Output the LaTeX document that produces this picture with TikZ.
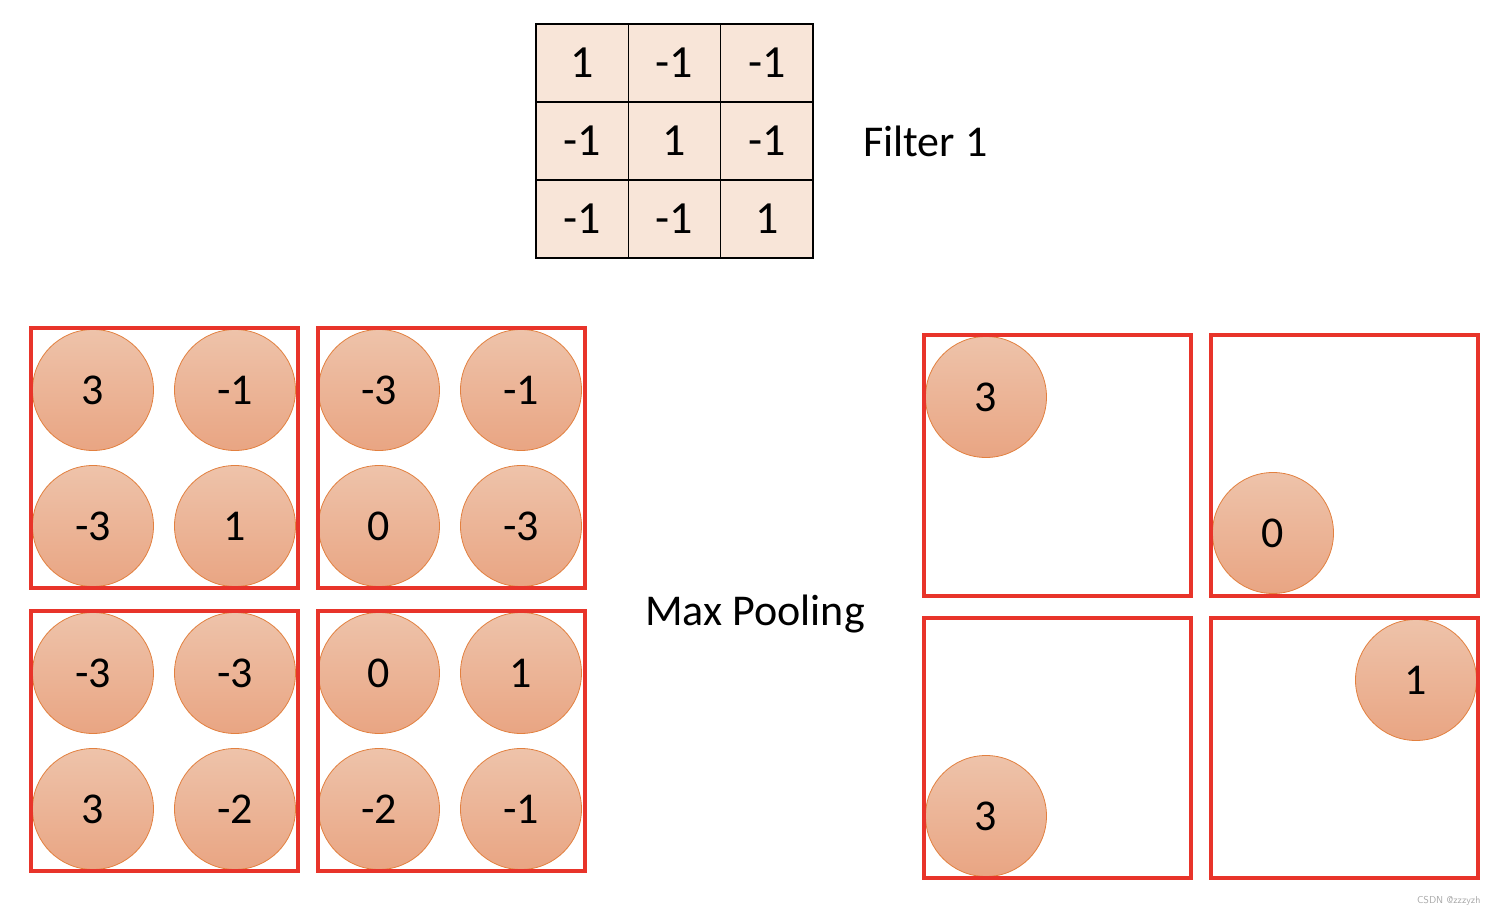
\documentclass[tikz,border=0pt]{standalone}
\usepackage{fontspec}
\setmainfont{Carlito}
\definecolor{cellfill}{HTML}{F8E5D8}
\definecolor{boxred}{HTML}{E8342A}
\definecolor{ctop}{HTML}{EEC3AA}
\definecolor{cbot}{HTML}{E9A583}
\definecolor{cline}{HTML}{E2803F}
\begin{document}
\begin{tikzpicture}[x=1pt,y=-1pt,
  cell/.style={draw=black,line width=1.5pt,fill=cellfill,minimum width=92.3pt,minimum height=78pt,anchor=center,font=\fontsize{46}{50}\selectfont,inner sep=0pt},
  ball/.style={circle,draw=cline,line width=0.8pt,top color=ctop,bottom color=cbot,minimum size=121pt,inner sep=0pt,font=\fontsize{44}{48}\selectfont},
  pool/.style={draw=boxred,line width=4pt},
  lab/.style={font=\fontsize{44}{48}\selectfont,inner sep=0pt}]
\useasboundingbox (0,0) rectangle (1497,917);
% filter
\foreach \r/\row in {0/{1,-1,-1},1/{-1,1,-1},2/{-1,-1,1}}{
  \foreach \v [count=\c from 0] in \row {
    \node[cell] (f\r\c) at ({582.2+92.3*\c},{63+78*\r}) {\v};
  }
}
\node[lab,anchor=west] (ft) at (863,141) {Filter 1};
% left circles
\foreach \v [count=\i from 0] in {3,-1,-3,-1}{
  \pgfmathsetmacro\xx{{93,235,379,521}[\i]}
  \node[ball] (a\i) at (\xx,390) {\v};}
\foreach \v [count=\i from 0] in {-3,1,0,-3}{
  \pgfmathsetmacro\xx{{93,235,379,521}[\i]}
  \node[ball] (b\i) at (\xx,526) {\v};}
\foreach \v [count=\i from 0] in {-3,-3,0,1}{
  \pgfmathsetmacro\xx{{93,235,379,521}[\i]}
  \node[ball] (c\i) at (\xx,673) {\v};}
\foreach \v [count=\i from 0] in {3,-2,-2,-1}{
  \pgfmathsetmacro\xx{{93,235,379,521}[\i]}
  \node[ball] (d\i) at (\xx,809) {\v};}
\draw[pool] (31,328) rectangle (298,588);
\draw[pool] (318,328) rectangle (585,588);
\draw[pool] (31,611) rectangle (298,871);
\draw[pool] (318,611) rectangle (585,871);
\node[lab] (mp) at (755,614) {Max Pooling};
% right
\node[ball] (r1) at (986,397) {3};
\node[ball] (r2) at (1273,533) {0};
\node[ball] (r3) at (986,816) {3};
\node[ball] (r4) at (1416,680) {1};
\draw[pool] (924,335) rectangle (1191,596);
\draw[pool] (1211,335) rectangle (1478,596);
\draw[pool] (924,618) rectangle (1191,878);
\draw[pool] (1211,618) rectangle (1478,878);
\node[font=\fontsize{10}{12}\selectfont\sffamily,text=gray!70,anchor=east] (wm) at (1484,901) {CSDN @zzzyzh};
\end{tikzpicture}
\end{document}
